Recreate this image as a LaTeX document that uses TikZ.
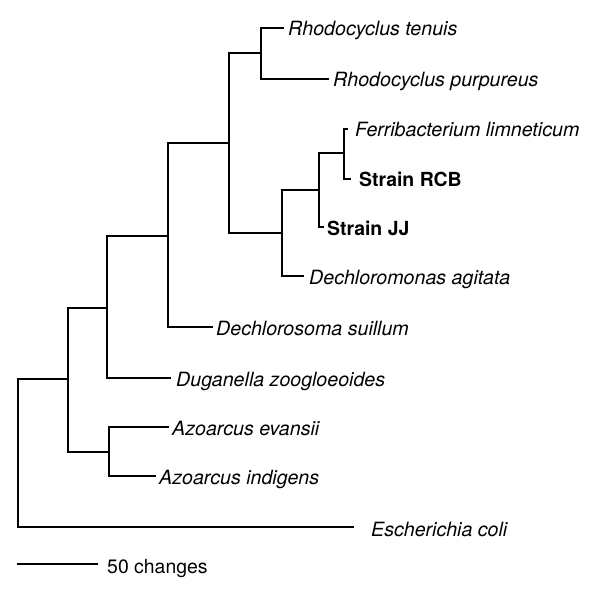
\documentclass[tikz,border=0pt]{standalone}
\usepackage{fontspec}
\setmainfont{TeX Gyre Heros}
\begin{document}
\begin{tikzpicture}[x=1bp,y=-1bp,
  branch/.style={line width=1.2bp, line cap=rect},
  leaf/.style={anchor=base west, inner sep=0pt, font=\fontsize{19.7}{22}\selectfont\itshape},
  bleaf/.style={anchor=base west, inner sep=0pt, font=\fontsize{19.5}{22}\selectfont\bfseries},
  sblabel/.style={anchor=base west, inner sep=0pt, font=\fontsize{19.5}{22}\selectfont}]
\useasboundingbox (0,0) rectangle (600,603);
% internal nodes
\coordinate (r) at (18,379);
\coordinate (A) at (68,379);
\coordinate (B) at (107,308);
\coordinate (Az) at (109,452);
\coordinate (C) at (168,236);
\coordinate (D) at (229,143);
\coordinate (E) at (261,53);
\coordinate (F) at (282,233);
\coordinate (G) at (319,190);
\coordinate (H) at (344,153);
% tips
\coordinate (tTen) at (283,28);
\coordinate (tPur) at (328,79);
\coordinate (tFer) at (347,129);
\coordinate (tRCB) at (350,179);
\coordinate (tJJ) at (323,227);
\coordinate (tAgi) at (303,276);
\coordinate (tDes) at (212,327);
\coordinate (tDug) at (170,378);
\coordinate (tEva) at (168,427);
\coordinate (tInd) at (155,476);
\coordinate (tEco) at (353,527);
% labels
\node[leaf] (lTen) at (288,36) {Rhodocyclus tenuis};
\node[leaf] (lPur) at (333,87) {Rhodocyclus purpureus};
\node[leaf] (lFer) at (355,137) {Ferribacterium limneticum};
\node[bleaf] (lRCB) at (359,186) {Strain RCB};
\node[bleaf] (lJJ) at (327,235) {Strain JJ};
\node[leaf] (lAgi) at (309,284) {Dechloromonas agitata};
\node[leaf] (lDes) at (216,335) {Dechlorosoma suillum};
\node[leaf] (lDug) at (176,386) {Duganella zoogloeoides};
\node[leaf] (lEva) at (172,435) {Azoarcus evansii};
\node[leaf] (lInd) at (159,484) {Azoarcus indigens};
\node[leaf] (lEco) at (371,536) {Escherichia coli};
% branches
\draw[branch] (r) |- (tEco);
\draw[branch] (r) -- (A);
\draw[branch] (A) |- (B);
\draw[branch] (A) |- (Az);
\draw[branch] (Az) |- (tEva);
\draw[branch] (Az) |- (tInd);
\draw[branch] (B) |- (C);
\draw[branch] (B) |- (tDug);
\draw[branch] (C) |- (D);
\draw[branch] (C) |- (tDes);
\draw[branch] (D) |- (E);
\draw[branch] (D) |- (F);
\draw[branch] (E) |- (tTen);
\draw[branch] (E) |- (tPur);
\draw[branch] (F) |- (G);
\draw[branch] (F) |- (tAgi);
\draw[branch] (G) |- (H);
\draw[branch] (G) |- (tJJ);
\draw[branch] (H) |- (tFer);
\draw[branch] (H) |- (tRCB);
% scale bar
\coordinate (sb1) at (17,564);
\coordinate (sb2) at (98,564);
\draw[branch, line cap=butt] (sb1) -- (sb2);
\node[sblabel] (sbl) at (107,573) {50 changes};
\end{tikzpicture}
\end{document}
